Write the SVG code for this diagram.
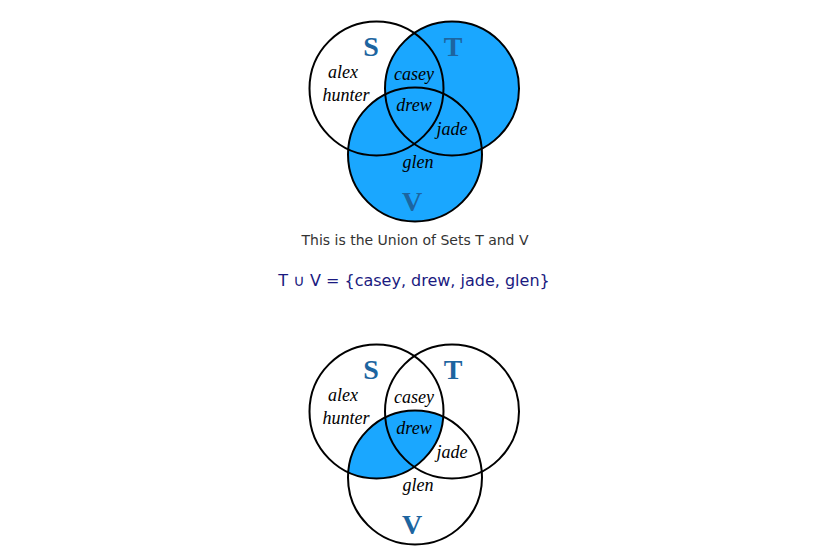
<svg xmlns="http://www.w3.org/2000/svg" width="828" height="548" viewBox="0 0 828 548">
<style>
.c{fill:none;stroke:#000;stroke-width:2}
.f{fill:#1aa7ff}
.n{font-family:"Liberation Serif",serif;font-style:italic;font-size:18px;fill:#000;text-anchor:middle}
.L{font-family:"Liberation Serif",serif;font-weight:bold;font-size:28px;fill:#1d65a0;text-anchor:middle}
.cap{font-family:"DejaVu Sans",sans-serif;font-size:14px;fill:#333;text-anchor:middle}
.eq{font-family:"DejaVu Sans",sans-serif;font-size:16px;fill:#1a1a80;text-anchor:middle}
</style>
<defs>
<clipPath id="clipS2"><circle cx="376.5" cy="411.5" r="67"/></clipPath>
</defs>
<g id="venn1">
<circle class="f" cx="452" cy="88.5" r="67"/>
<circle class="f" cx="415" cy="154.5" r="67"/>
<circle class="c" cx="376.5" cy="88.5" r="67"/>
<circle class="c" cx="452" cy="88.5" r="67"/>
<circle class="c" cx="415" cy="154.5" r="67"/>
<text class="L" x="371" y="56">S</text>
<text class="L" x="453" y="56">T</text>
<text class="L" x="412" y="211">V</text>
<text class="n" x="343" y="78">alex</text>
<text class="n" x="346" y="101">hunter</text>
<text class="n" x="414" y="80">casey</text>
<text class="n" x="414" y="111">drew</text>
<text class="n" x="452" y="135">jade</text>
<text class="n" x="418" y="168">glen</text>
</g>
<text class="cap" x="415" y="245">This is the Union of Sets T and V</text>
<text class="eq" x="414" y="286">T ∪ V = {casey, drew, jade, glen}</text>
<g id="venn2">
<circle class="f" cx="415" cy="477.5" r="67" clip-path="url(#clipS2)"/>
<circle class="c" cx="376.5" cy="411.5" r="67"/>
<circle class="c" cx="452" cy="411.5" r="67"/>
<circle class="c" cx="415" cy="477.5" r="67"/>
<text class="L" x="371" y="379">S</text>
<text class="L" x="453" y="379">T</text>
<text class="L" x="412" y="534">V</text>
<text class="n" x="343" y="401">alex</text>
<text class="n" x="346" y="424">hunter</text>
<text class="n" x="414" y="403">casey</text>
<text class="n" x="414" y="434">drew</text>
<text class="n" x="452" y="458">jade</text>
<text class="n" x="418" y="491">glen</text>
</g>
</svg>
